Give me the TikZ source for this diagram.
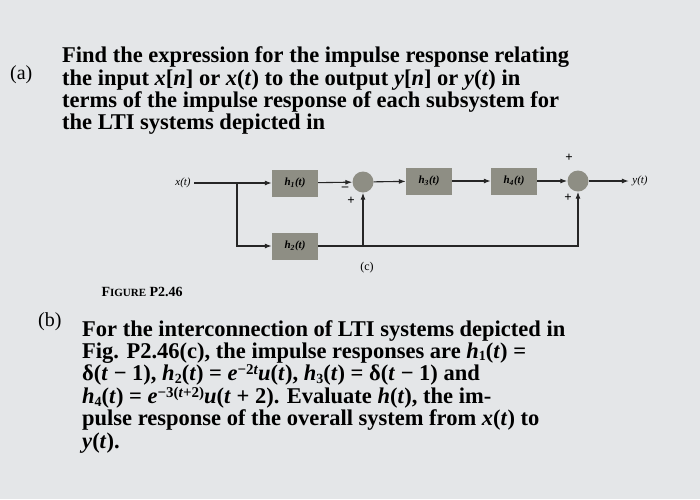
\documentclass[tikz,border=0pt]{standalone}
\usepackage{fontspec}
\setmainfont{Liberation Serif}
\usetikzlibrary{positioning, arrows.meta, calc}
\definecolor{paper}{HTML}{E4E6E8}
\definecolor{boxgray}{HTML}{8E8E84}
\newcommand{\vr}[1]{\textit{#1}}
\newcommand{\sups}[1]{\raisebox{0.55ex}{\fontsize{15}{15}\selectfont #1}}
\newcommand{\subs}[1]{\raisebox{-0.25ex}{\fontsize{14}{14}\selectfont #1}}
\tikzset{
    line/.style={draw, line width=1.1pt, black!85, -{Latex[length=7pt, width=5pt]}},
    blk/.style={fill=boxgray, minimum width=46pt, minimum height=27pt, inner sep=0pt, font=\fontsize{11}{13}\selectfont\bfseries\itshape},
    sum/.style={circle, fill=boxgray, minimum size=21pt, inner sep=0pt},
    txt/.style={anchor=west, inner sep=0pt, font=\fontsize{22.5}{24}\selectfont\bfseries},
    lbl/.style={inner sep=0pt, font=\fontsize{20}{22}\selectfont},
    sgn/.style={font=\fontsize{13}{14}\selectfont\bfseries, inner sep=0pt}
}
\begin{document}
\begin{tikzpicture}[x=1pt, y=-1pt]
    \useasboundingbox[fill=paper] (0,0) rectangle (700,499);

    % part (a)
    \node[lbl, anchor=west] (pa) at (10,75) {(a)};
    \node[txt] (a1) at (62,57) {Find the expression for the impulse response relating};
    \node[txt] (a2) at (62,80) {the input \vr{x}[\vr{n}] or \vr{x}(\vr{t}) to the output \vr{y}[\vr{n}] or \vr{y}(\vr{t}) in};
    \node[txt] (a3) at (62,102) {terms of the impulse response of each subsystem for};
    \node[txt] (a4) at (62,124) {the LTI systems depicted in};

    % block diagram
    \node[font=\fontsize{11}{13}\selectfont\itshape] (xin) at (183,183) {x(t)};
    \coordinate (br) at (237,183);
    \node[blk] (h1) at (295,183) {h\textsubscript{1}(t)};
    \node[sum] (s1) at (363,182) {};
    \node[blk] (h3) at (429,181) {h\textsubscript{3}(t)};
    \node[blk] (h4) at (514,181) {h\textsubscript{4}(t)};
    \node[sum] (s2) at (578,181) {};
    \node[font=\fontsize{11}{13}\selectfont\itshape] (yout) at (640,181) {y(t)};
    \node[blk] (h2) at (295,246) {h\textsubscript{2}(t)};
    \coordinate (tap) at (363,246);

    \draw[line] (xin) -- (br) -- (h1);
    \draw[line] (br) |- (h2);
    \draw[line] (h1) -- (s1);
    \draw[line] (s1) -- (h3);
    \draw[line] (h3) -- (h4);
    \draw[line] (h4) -- (s2);
    \draw[line] (s2) -- (yout);
    \draw[line] (h2.east) -- (tap) -- (s1);
    \draw[line] (tap) -| (s2);

    \node[sgn] (m1) at (345,189) {--};
    \node[sgn] (p1) at (351,201) {+};
    \node[sgn] (p2) at (569,158) {+};
    \node[sgn] (p3) at (568,198) {+};
    \node[font=\fontsize{12}{14}\selectfont] (cap) at (367,268) {(c)};
    \node[anchor=west, font=\fontsize{14}{16}\selectfont\bfseries] (fig) at (98,292) {F{\fontsize{11}{13}\selectfont IGURE} P2.46};

    % part (b)
    \node[lbl, anchor=west] (pb) at (38,322) {(b)};
    \node[txt] (b1) at (82,331) {For the interconnection of LTI systems depicted in};
    \node[txt] (b2) at (82,353) {Fig. P2.46(c), the impulse responses are \vr{h}\subs{1}(\vr{t}) =};
    \node[txt] (b3) at (82,375) {δ(\vr{t} − 1), \vr{h}\subs{2}(\vr{t}) = \vr{e}\sups{−2\vr{t}}\vr{u}(\vr{t}), \vr{h}\subs{3}(\vr{t}) = δ(\vr{t} − 1) and};
    \node[txt] (b4) at (82,398) {\vr{h}\subs{4}(\vr{t}) = \vr{e}\sups{−3(\vr{t}+2)}\vr{u}(\vr{t} + 2). Evaluate \vr{h}(\vr{t}), the im-};
    \node[txt] (b5) at (82,420) {pulse response of the overall system from \vr{x}(\vr{t}) to};
    \node[txt] (b6) at (82,443) {\vr{y}(\vr{t}).};
\end{tikzpicture}
\end{document}
